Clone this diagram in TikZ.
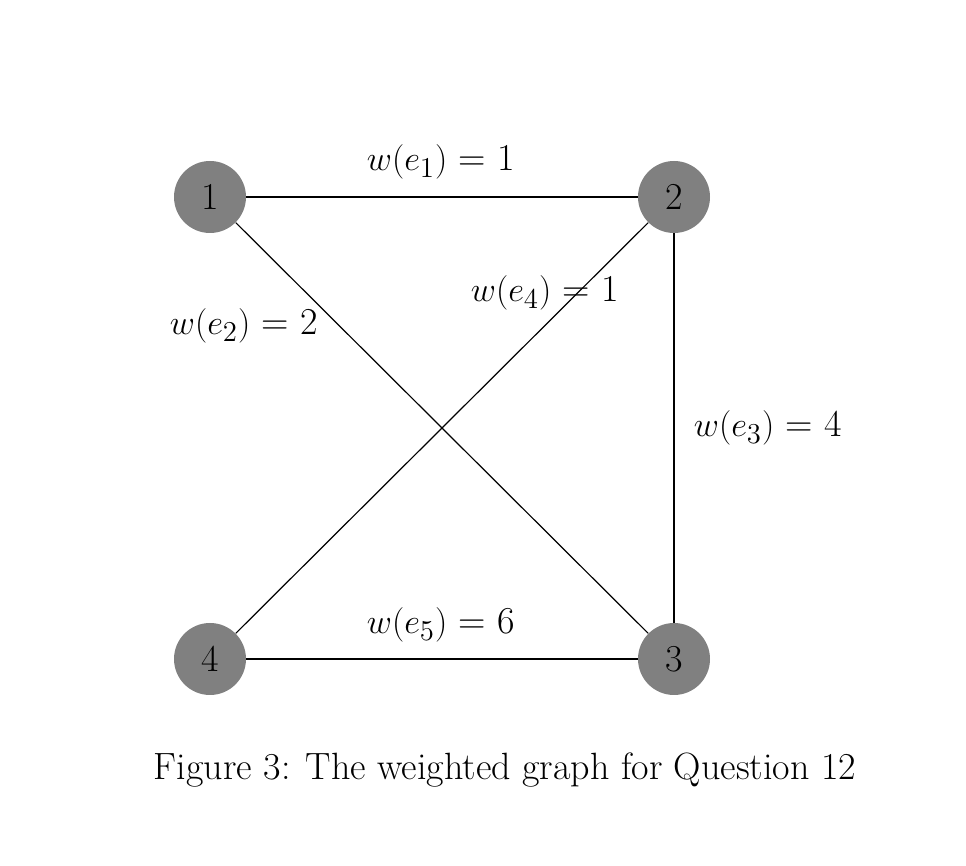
\documentclass[tikz,border=0pt]{standalone}
\begin{document}
\begin{tikzpicture}[x=0.5pt,y=-0.5pt,
  vtx/.style={circle,fill=black!50,minimum size=36pt,inner sep=0pt,font=\fontsize{19}{23}\selectfont},
  lbl/.style={font=\fontsize{19}{23}\selectfont},
  edge/.style={draw=black,line width=0.6pt}]
\useasboundingbox (0,0) rectangle (966,866);
\node[vtx] (n1) at (210,197) {1};
\node[vtx] (n2) at (674,197) {2};
\node[vtx] (n3) at (674,659) {3};
\node[vtx] (n4) at (210,659) {4};
\draw[edge] (n1) -- (n2);
\draw[edge] (n1) -- (n3);
\draw[edge] (n2) -- (n3);
\draw[edge] (n2) -- (n4);
\draw[edge] (n4) -- (n3);
\node[lbl] (l1) at (441,162) {$w(e_1)$ = 1};
\node[lbl] (l2) at (244,326) {$w(e_2)$ = 2};
\node[lbl] (l4) at (545,293) {$w(e_4)$ = 1};
\node[lbl] (l3) at (768,428) {$w(e_3)$ = 4};
\node[lbl] (l5) at (441,625) {$w(e_5)$ = 6};
\node[lbl] (cap) at (505,770) {Figure 3: The weighted graph for Question 12};
\end{tikzpicture}
\end{document}
